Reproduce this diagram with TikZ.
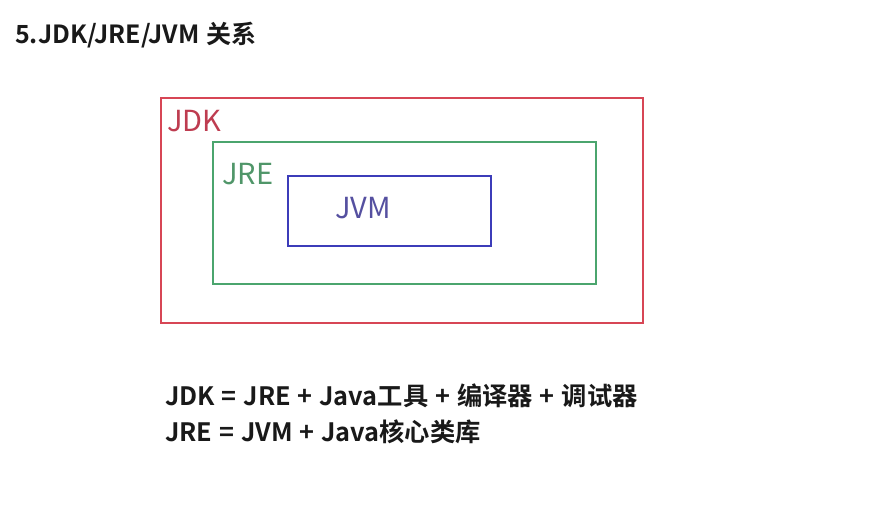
\documentclass[tikz,border=0pt]{standalone}
\usepackage{fontspec}
\setmainfont{Noto Sans CJK SC}
\newfontfamily\cjkb{Noto Sans CJK SC Bold}
\newfontfamily\cjkbw[WordSpace=1.2]{Noto Sans CJK SC Bold}
\begin{document}
\begin{tikzpicture}[x=1pt,y=-1pt,
  lbl/.style={anchor=base west,inner sep=0pt,font=\fontsize{29}{32}\selectfont},
  hdr/.style={anchor=base west,inner sep=0pt,font=\cjkb\fontsize{25}{30}\selectfont,text=black!90},
  formula/.style={anchor=base west,inner sep=0pt,font=\cjkbw\fontsize{25.3}{30}\selectfont,text=black!90},
  frame/.style={draw,line width=2.9pt}]
\definecolor{jdkred}{RGB}{215,70,85}
\definecolor{jregreen}{RGB}{75,165,110}
\definecolor{jvmblue}{RGB}{60,60,185}
\definecolor{jdktxt}{RGB}{190,60,80}
\definecolor{jretxt}{RGB}{80,150,105}
\definecolor{jvmtxt}{RGB}{85,80,160}
\useasboundingbox[fill=white] (0,0) rectangle (888,514);
\node[hdr] (title) at (15,43) {5.JDK/JRE/JVM 关系};
\draw[frame,jdkred] (161,98) rectangle (643,323);
\draw[frame,jregreen] (213,142) rectangle (596,284);
\draw[frame,jvmblue] (288,176) rectangle (491,246);
\node[lbl,text=jdktxt] (jdk) at (167,131) {JDK};
\node[lbl,text=jretxt] (jre) at (222,184) {JRE};
\node[lbl,text=jvmtxt] (jvm) at (335,218) {JVM};
\node[formula] (f1) at (165,405) {JDK = JRE + Java工具 + 编译器 + 调试器};
\node[formula] (f2) at (165,441) {JRE = JVM + Java核心类库};
\end{tikzpicture}
\end{document}
